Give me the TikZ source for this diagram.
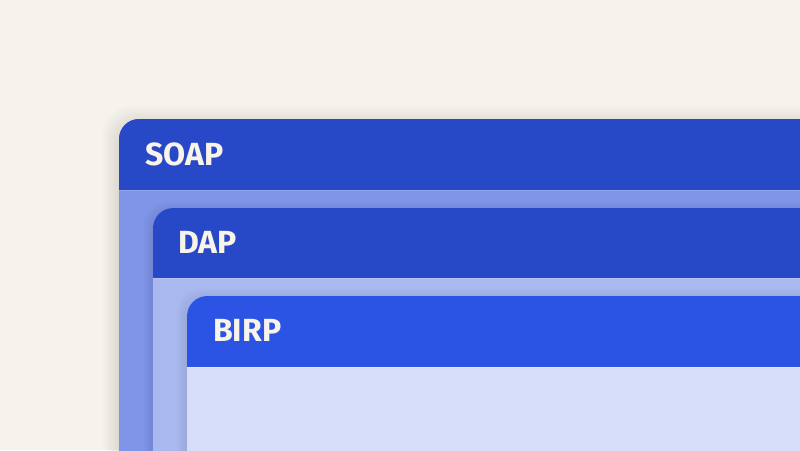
\documentclass[tikz,border=0pt]{standalone}
\usepackage{fontspec}
\setmainfont{Fira Sans}
\usetikzlibrary{positioning}
\definecolor{paper}{HTML}{F6F3EC}
\definecolor{soaphead}{HTML}{2749C8}
\definecolor{soapbody}{HTML}{7F96E8}
\definecolor{daphead}{HTML}{2749C8}
\definecolor{dapbody}{HTML}{A9B9EF}
\definecolor{birphead}{HTML}{2B54E5}
\definecolor{birpbody}{HTML}{D5DDF9}
\definecolor{labeltext}{HTML}{F8F4E9}
\tikzset{
  boxlabel/.style={anchor=base west, inner sep=0pt, text=labeltext,
    font=\fontsize{32}{32}\selectfont\bfseries},
  seam/.style={line width=1.2pt},
}

\begin{document}
\begin{tikzpicture}[x=1pt,y=-1pt]
        \useasboundingbox (0,0) rectangle (800,450);
        \fill[paper] (0,0) rectangle (800,450);
        \clip (0,0) rectangle (800,450);

        % Soft shadow round the outer box
        \foreach \s in {2,4,...,16}
          \fill[black,opacity=0.012,rounded corners=26]
            (119-\s,470) -- (119-\s,119-\s+4) -- (830,119-\s+4) -- (830,470) -- cycle;

        % Draw the SOAP box
        \fill[soapbody] (119,470) [rounded corners=20] -- (119,119) [sharp corners] -- (830,119) -- (830,470) -- cycle;
        \fill[soaphead] (119,190) [rounded corners=20] -- (119,119) [sharp corners] -- (830,119) -- (830,190) -- cycle;
        \draw[seam,soapbody!85!white] (119,190.5) -- (830,190.5);

        % Draw the DAP box
        \foreach \s in {2,4,...,10}
          \fill[black,opacity=0.015,rounded corners=24]
            (153-\s,470) -- (153-\s,208-\s+3) -- (830,208-\s+3) -- (830,470) -- cycle;
        \fill[dapbody] (153,470) [rounded corners=20] -- (153,208) [sharp corners] -- (830,208) -- (830,470) -- cycle;
        \fill[daphead] (153,278) [rounded corners=20] -- (153,208) [sharp corners] -- (830,208) -- (830,278) -- cycle;
        \draw[seam,dapbody!85!white] (153,278.5) -- (830,278.5);

        % Draw the BIRP box
        \foreach \s in {2,4,...,10}
          \fill[black,opacity=0.015,rounded corners=24]
            (187-\s,470) -- (187-\s,296-\s+3) -- (830,296-\s+3) -- (830,470) -- cycle;
        \fill[birpbody] (187,470) [rounded corners=20] -- (187,296) [sharp corners] -- (830,296) -- (830,470) -- cycle;
        \fill[birphead] (187,367) [rounded corners=20] -- (187,296) [sharp corners] -- (830,296) -- (830,367) -- cycle;
        \draw[seam,birpbody!70!white] (187,367.5) -- (830,367.5);

        % Add the names in the headers
        \node[boxlabel] (soap) at (145,165) {SOAP};
        \node[boxlabel] (dap) at (178,253) {DAP};
        \node[boxlabel] (birp) at (213,341) {BIRP};
\end{tikzpicture}
\end{document}
